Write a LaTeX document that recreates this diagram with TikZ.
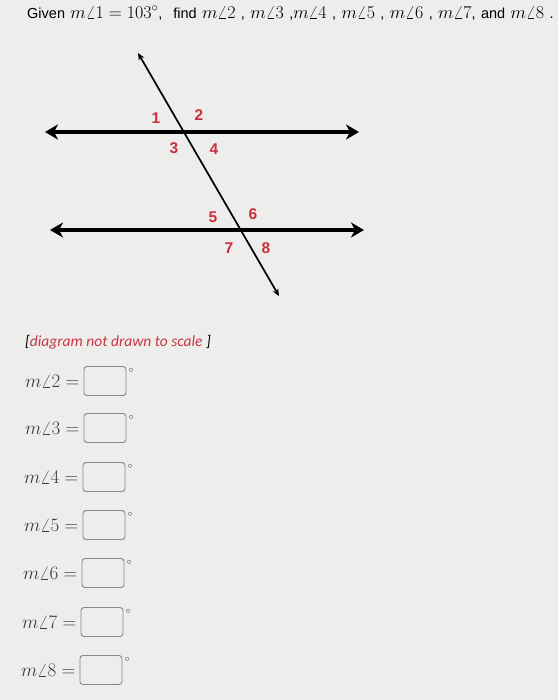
\RequirePackage{fix-cm}
\documentclass[tikz,border=0pt]{standalone}
\usepackage{fontspec}
\setmainfont{Liberation Sans}
\newfontfamily\labfont{Liberation Sans}
\newfontfamily\notefont{Carlito}
\usetikzlibrary{arrows.meta,positioning}
\definecolor{bgc}{RGB}{237,237,235}
\definecolor{lblred}{RGB}{205,45,60}
\definecolor{notered}{RGB}{200,55,70}
\definecolor{boxgray}{RGB}{135,135,135}
\definecolor{mathgray}{RGB}{60,60,60}
\newcommand\mth[1]{{\fontsize{18}{20}\selectfont$#1$}}
\tikzset{
  parline/.style={line width=3.6pt,{Stealth[length=13pt,width=15pt,inset=4pt]}-{Stealth[length=13pt,width=15pt,inset=4pt]}},
  transline/.style={line width=1.7pt,{Stealth[length=7pt,width=6pt,inset=2pt]}-{Stealth[length=7pt,width=6pt,inset=2pt]}},
  anglbl/.style={text=lblred,font=\labfont\bfseries\fontsize{15.5}{16}\selectfont,inner sep=0pt},
  ansbox/.style={draw=boxgray,line width=0.9pt,rounded corners=3pt,minimum width=42pt,minimum height=29pt,inner sep=0pt},
  anslabel/.style={inner sep=0pt,text=mathgray,font=\fontsize{19}{21}\selectfont},
  degmark/.style={inner sep=0pt,text=mathgray,font=\fontsize{13}{13}\selectfont}
}
\begin{document}
\begin{tikzpicture}[x=1pt,y=-1pt]
\useasboundingbox (0,0) rectangle (558,700);
\fill[bgc] (0,0) rectangle (558,700);
% title
\node[anchor=base west,inner sep=0pt,font=\fontsize{14.5}{16}\selectfont] (title) at (27,18.5)
 {\spaceskip=5.4pt Given \mth{m\angle 1=103^\circ},\ \ find \mth{m\angle 2} , \mth{m\angle 3} ,\mth{m\angle 4} , \mth{m\angle 5} , \mth{m\angle 6} , \mth{m\angle 7}, and \mth{m\angle 8} .};
% diagram
\coordinate (tl) at (45,132);
\coordinate (tr) at (359,132);
\coordinate (bl) at (50,230);
\coordinate (br) at (364,230);
\coordinate (ttop) at (138,53);
\coordinate (tbot) at (279,296);
\draw[parline] (tl) -- (tr);
\draw[parline] (bl) -- (br);
\draw[transline] (ttop) -- (tbot);
\node[anglbl] (a1) at (156,118) {1};
\node[anglbl] (a2) at (199,115) {2};
\node[anglbl] (a3) at (174,148) {3};
\node[anglbl] (a4) at (214,149) {4};
\node[anglbl] (a5) at (213,217) {5};
\node[anglbl] (a6) at (253,214) {6};
\node[anglbl] (a7) at (229,248) {7};
\node[anglbl] (a8) at (266,248) {8};
% note
\node[anchor=west,inner sep=0pt,font=\notefont\itshape\fontsize{15.5}{17}\selectfont] (note) at (25,342)
 {[\textcolor{notered}{diagram not drawn to scale} ]};
% answers
\foreach \n/\x/\y in {2/105/381,3/105/428,4/104/477,5/104/525,6/103/573,7/102/622,8/101/670}{
  \node[ansbox] (b\n) at (\x,\y) {};
  \node[anslabel,left=4pt of b\n] (l\n) {$m\angle \n =$};
  \node[degmark] (d\n) at ([xshift=5pt,yshift=-7pt]b\n.north east) {$^\circ$};
}
\end{tikzpicture}
\end{document}
